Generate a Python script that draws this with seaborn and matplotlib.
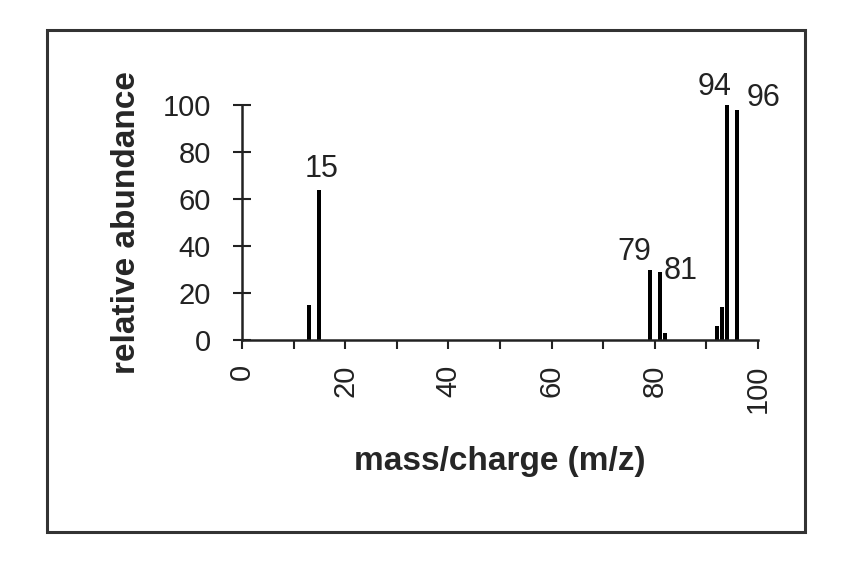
import matplotlib
matplotlib.use("Agg")
import matplotlib.pyplot as plt
import seaborn as sns
from matplotlib.patches import Rectangle

# mass spectrum values
mz = [13, 15, 79, 81, 82, 92, 93, 94, 96]
abundance = [15, 64, 30, 29, 3, 6, 14, 100, 98]
labelled_mz = [15, 79, 81, 94, 96]
x_ticks = list(range(0, 101, 10))
x_tick_labels = ["0", "", "20", "", "40", "", "60", "", "80", "", "100"]
y_ticks = [0, 20, 40, 60, 80, 100]

# label offsets from bar tops, in pixels
LABEL_OFFSET = {15: (2, 21), 79: (-15, 17), 81: (21, 1), 94: (-12, 18), 96: (26, 12)}

sns.set_theme(style="ticks")
plt.rcParams["font.family"] = ["Liberation Sans", "DejaVu Sans"]

fig = plt.figure(figsize=(8.64, 5.66), dpi=100)
ax = fig.add_axes([242 / 864, 1 - 340 / 566, 516 / 864, 235 / 566])

sns.barplot(x=mz, y=abundance, native_scale=True, width=0.75, color="black",
            saturation=1, linewidth=0, edgecolor="black", ax=ax)
for p in ax.patches:
    p.set_clip_on(False)

for m in labelled_mz:
    a = abundance[mz.index(m)]
    ax.annotate(str(m), xy=(m, a), xytext=LABEL_OFFSET[m], textcoords="offset pixels",
                ha="center", va="center", fontsize=22, color="#222222")

ax.set_xlim(0, 100)
ax.set_ylim(0, 100)
ax.set_xticks(x_ticks)
ax.set_xticklabels(x_tick_labels, rotation=90, fontsize=21, color="#222222")
ax.set_yticks(y_ticks)
ax.set_yticklabels([str(v) for v in y_ticks], fontsize=21, color="#222222")
ax.tick_params(axis="x", direction="out", length=6.5, width=1.5, pad=11, color="#222222",
               bottom=True)
ax.tick_params(axis="y", direction="inout", length=13, width=1.5, pad=16, color="#222222",
               left=True)

for side in ["top", "right"]:
    ax.spines[side].set_visible(False)
for side in ["left", "bottom"]:
    ax.spines[side].set_color("#222222")
    ax.spines[side].set_linewidth(1.8)

ax.set_xlabel("mass/charge (m/z)", fontsize=24, fontweight="bold", labelpad=24)
ax.set_ylabel("relative abundance", fontsize=24, fontweight="bold", labelpad=15)
ax.set_facecolor("white")

# outer chart frame
fig.add_artist(Rectangle((47 / 864, 1 - 532 / 566), (805 - 47) / 864, (532 - 30) / 566,
                         transform=fig.transFigure, fill=False, edgecolor="#333333",
                         linewidth=2.2))

fig.savefig("out.png", dpi=100, facecolor="white")
